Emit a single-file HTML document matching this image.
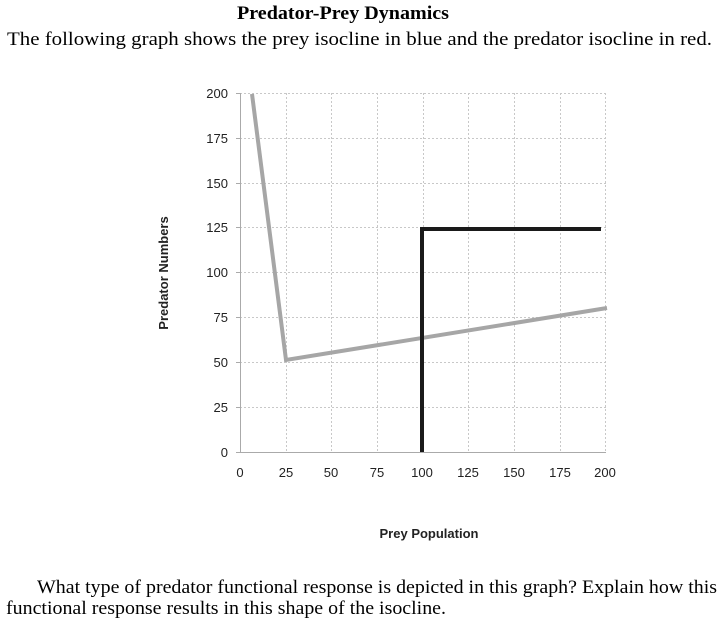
<!DOCTYPE html>
<html><head><meta charset="utf-8"><style>
body{margin:0;width:721px;height:624px;background:#fff;overflow:hidden}
svg{position:absolute;left:0;top:0}
</style></head><body>
<svg width="721" height="624" xmlns="http://www.w3.org/2000/svg">
<g font-family="Liberation Serif, serif" fill="#000">
<text x="237" y="19" font-size="19" font-weight="bold" textLength="212" lengthAdjust="spacingAndGlyphs">Predator-Prey Dynamics</text>
<text x="7" y="45" font-size="19" textLength="705" lengthAdjust="spacingAndGlyphs">The following graph shows the prey isocline in blue and the predator isocline in red.</text>
<text x="37" y="593" font-size="19" textLength="680" lengthAdjust="spacingAndGlyphs">What type of predator functional response is depicted in this graph? Explain how this</text>
<text x="6" y="614" font-size="19" textLength="440" lengthAdjust="spacingAndGlyphs">functional response results in this shape of the isocline.</text>
</g>
<g stroke="#c8c8c8" stroke-width="1" stroke-dasharray="2,2">
<line x1="240" y1="93.5" x2="606" y2="93.5"/>
<line x1="240" y1="138.5" x2="606" y2="138.5"/>
<line x1="240" y1="183.5" x2="606" y2="183.5"/>
<line x1="240" y1="227.5" x2="606" y2="227.5"/>
<line x1="240" y1="272.5" x2="606" y2="272.5"/>
<line x1="240" y1="317.5" x2="606" y2="317.5"/>
<line x1="240" y1="362.5" x2="606" y2="362.5"/>
<line x1="240" y1="407.5" x2="606" y2="407.5"/>
<line x1="286.5" y1="93" x2="286.5" y2="452"/>
<line x1="331.5" y1="93" x2="331.5" y2="452"/>
<line x1="377.5" y1="93" x2="377.5" y2="452"/>
<line x1="423.5" y1="93" x2="423.5" y2="452"/>
<line x1="468.5" y1="93" x2="468.5" y2="452"/>
<line x1="514.5" y1="93" x2="514.5" y2="452"/>
<line x1="560.5" y1="93" x2="560.5" y2="452"/>
<line x1="605.5" y1="93" x2="605.5" y2="452"/>
</g>
<g stroke="#aaa" stroke-width="1">
<line x1="240.5" y1="93" x2="240.5" y2="452"/>
<line x1="240" y1="452.5" x2="606" y2="452.5"/>
<line x1="236" y1="93.5" x2="240" y2="93.5"/><line x1="236" y1="138.5" x2="240" y2="138.5"/>
<line x1="236" y1="183.5" x2="240" y2="183.5"/><line x1="236" y1="227.5" x2="240" y2="227.5"/>
<line x1="236" y1="272.5" x2="240" y2="272.5"/><line x1="236" y1="317.5" x2="240" y2="317.5"/>
<line x1="236" y1="362.5" x2="240" y2="362.5"/><line x1="236" y1="407.5" x2="240" y2="407.5"/>
<line x1="236" y1="452.5" x2="240" y2="452.5"/>
</g>
<g font-family="Liberation Sans, sans-serif" font-size="13" fill="#222" text-anchor="end">
<text x="228" y="98">200</text><text x="228" y="143">175</text><text x="228" y="188">150</text>
<text x="228" y="232">125</text><text x="228" y="277">100</text><text x="228" y="322">75</text>
<text x="228" y="367">50</text><text x="228" y="412">25</text><text x="228" y="457">0</text>
</g>
<g font-family="Liberation Sans, sans-serif" font-size="13" fill="#222" text-anchor="middle">
<text x="240" y="477">0</text><text x="286" y="477">25</text><text x="331" y="477">50</text>
<text x="377" y="477">75</text><text x="422" y="477">100</text><text x="468" y="477">125</text>
<text x="514" y="477">150</text><text x="560" y="477">175</text><text x="605" y="477">200</text>
<text x="429" y="538" font-weight="bold" font-size="13">Prey Population</text>
<text transform="translate(168,273) rotate(-90)" font-weight="bold" font-size="13">Predator Numbers</text>
</g>
<polyline points="252,94 286,360 607,308" fill="none" stroke="#a6a6a6" stroke-width="4"/>
<polyline points="422,452 422,229 601,229" fill="none" stroke="#1a1a1a" stroke-width="4"/>
</svg>
</body></html>
